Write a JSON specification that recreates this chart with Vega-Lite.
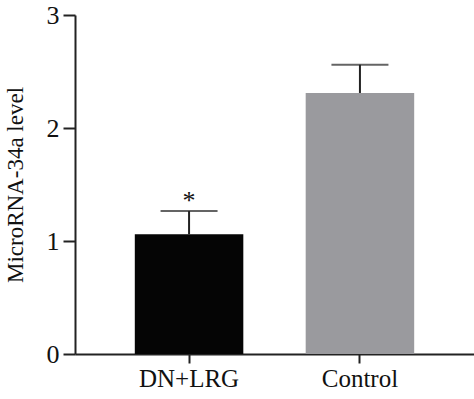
{
  "$schema": "https://vega.github.io/schema/vega-lite/v6.json",
  "width": 399,
  "height": 339,
  "autosize": {"type": "none"},
  "padding": {"left": 75, "top": 15, "right": 0, "bottom": 45},
  "background": "white",
  "config": {"view": {"stroke": null}, "font": "Liberation Serif"},
  "data": {
    "values": [
      {"group": "DN+LRG", "mean": 1.06, "upper": 1.265, "sig": "*"},
      {"group": "Control", "mean": 2.31, "upper": 2.56, "sig": ""}
    ]
  },
  "encoding": {
    "x": {
      "field": "group",
      "type": "nominal",
      "sort": null,
      "scale": {"paddingInner": 0.365, "paddingOuter": 0.35},
      "axis": {
        "title": null,
        "labelAngle": 0,
        "labelFont": "Liberation Serif",
        "labelFontSize": 25,
        "labelColor": "#111",
        "labelPadding": 3,
        "tickSize": 9,
        "tickWidth": 2,
        "tickColor": "#222",
        "domainWidth": 2,
        "domainColor": "#222"
      }
    }
  },
  "layer": [
    {
      "mark": {"type": "bar"},
      "encoding": {
        "y": {
          "field": "mean",
          "type": "quantitative",
          "scale": {"domain": [0, 3], "nice": false},
          "axis": {
            "title": "MicroRNA-34a level",
            "values": [0, 1, 2, 3],
            "format": "d",
            "grid": false,
            "labelFont": "Liberation Serif",
            "labelFontSize": 26,
            "labelColor": "#111",
            "labelPadding": 4,
            "tickSize": 12,
            "tickWidth": 2,
            "tickColor": "#222",
            "domainWidth": 2,
            "domainColor": "#222",
            "titleFont": "Liberation Serif",
            "titleFontSize": 23,
            "titleFontWeight": "normal",
            "titleColor": "#111",
            "titlePadding": 19
          }
        },
        "color": {
          "field": "group",
          "type": "nominal",
          "scale": {"domain": ["DN+LRG", "Control"], "range": ["#050505", "#9a9a9e"]},
          "legend": null
        }
      }
    },
    {
      "mark": {"type": "rule", "color": "#222", "strokeWidth": 2},
      "encoding": {
        "y": {"field": "mean", "type": "quantitative"},
        "y2": {"field": "upper"}
      }
    },
    {
      "mark": {"type": "tick", "color": "#222", "thickness": 2, "size": 57},
      "encoding": {
        "y": {"field": "upper", "type": "quantitative"}
      }
    },
    {
      "mark": {"type": "text", "fontSize": 26, "font": "Liberation Serif", "baseline": "middle", "dy": 6, "color": "#111"},
      "encoding": {
        "y": {"field": "upper", "type": "quantitative"},
        "text": {"field": "sig"},
        "yOffset": {"value": -16}
      }
    }
  ]
}
